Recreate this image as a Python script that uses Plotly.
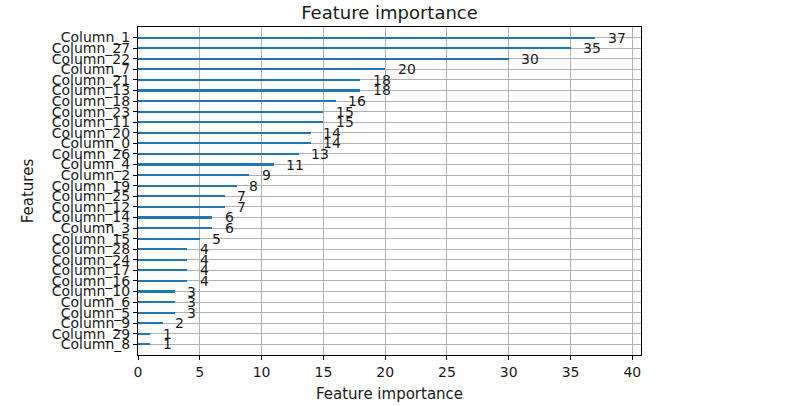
import plotly.graph_objects as go

features = ["Column_1", "Column_27", "Column_22", "Column_7", "Column_21", "Column_13",
            "Column_18", "Column_23", "Column_11", "Column_20", "Column_0", "Column_26",
            "Column_4", "Column_2", "Column_19", "Column_25", "Column_12", "Column_14",
            "Column_3", "Column_15", "Column_28", "Column_24", "Column_17", "Column_16",
            "Column_10", "Column_6", "Column_5", "Column_9", "Column_29", "Column_8"]
importance = [37, 35, 30, 20, 18, 18, 16, 15, 15, 14, 14, 13, 11, 9, 8, 7, 7, 6, 6, 5,
              4, 4, 4, 4, 3, 3, 3, 2, 1, 1]
x_ticks = [0, 5, 10, 15, 20, 25, 30, 35, 40]

# bottom-to-top order like matplotlib barh
feat_bt = features[::-1]
imp_bt = importance[::-1]

font = "DejaVu Sans"
txt = "#1a1a1a"
W, H = 809, 406
fig = go.Figure()
fig.add_trace(go.Bar(
    x=imp_bt, y=feat_bt, orientation="h", width=0.2,
    marker=dict(color="#1f77b4", line=dict(width=0)),
    showlegend=False, hoverinfo="x+y",
))

for f, v in zip(feat_bt, imp_bt):
    fig.add_annotation(x=v + 1, y=f, text=str(v), showarrow=False,
                       xanchor="left", yanchor="middle", xshift=-2,
                       font=dict(family=font, size=14, color=txt))

fig.update_layout(
    width=W, height=H,
    margin=dict(l=138, r=168, t=27, b=51, autoexpand=False),
    plot_bgcolor="white", paper_bgcolor="white",
    font=dict(family=font, size=14, color=txt),
    title=dict(text="Feature importance", x=389.5 / W, xanchor="center",
               y=1 - 13 / H, yanchor="middle", font=dict(family=font, size=18, color=txt)),
    bargap=0,
)
fig.update_xaxes(
    range=[0, 40.7], tickvals=x_ticks, ticktext=[str(t) for t in x_ticks],
    showgrid=True, gridcolor="#b0b0b0", gridwidth=1,
    showline=True, linecolor="black", linewidth=1, mirror=True,
    ticks="outside", ticklen=4, tickcolor="black",
    tickfont=dict(family=font, size=14, color=txt),
    title=dict(text="Feature importance", font=dict(family=font, size=15, color=txt), standoff=9),
    zeroline=False, automargin=False,
)
fig.update_yaxes(
    type="category", categoryorder="array", categoryarray=feat_bt,
    tickmode="array", tickvals=feat_bt, ticktext=feat_bt,
    range=[-1, 30],
    showgrid=True, gridcolor="#b0b0b0", gridwidth=1,
    showline=True, linecolor="black", linewidth=1, mirror=True,
    ticks="outside", ticklen=4, tickcolor="black",
    tickfont=dict(family=font, size=14, color=txt),
    title=dict(text="Features", font=dict(family=font, size=15, color=txt), standoff=14),
    automargin=False,
)

fig.write_html("out.html", config={"displayModeBar": False},
               post_script="document.body.style.margin='0';")
